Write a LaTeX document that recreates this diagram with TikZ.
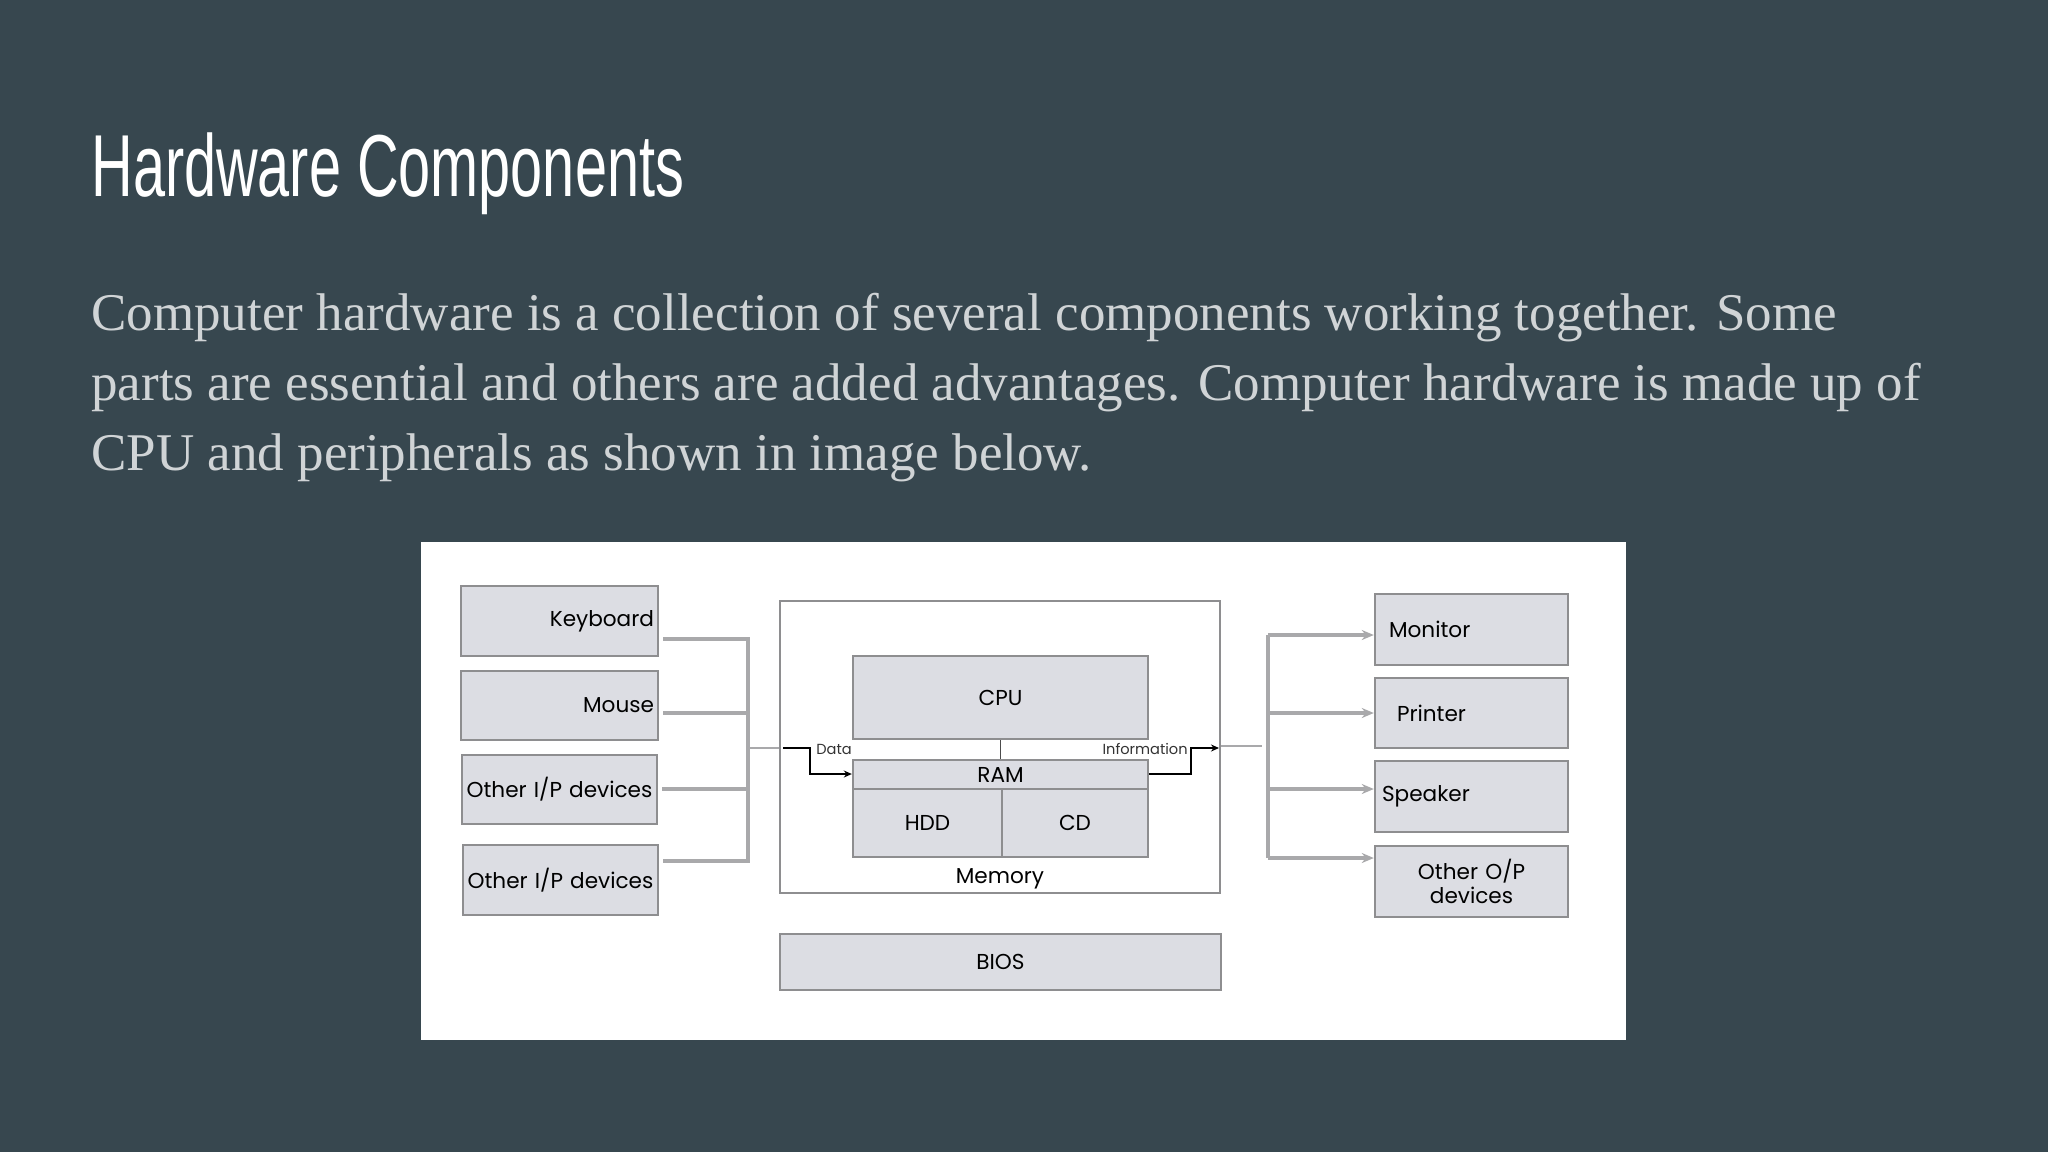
\documentclass[tikz,border=0pt]{standalone}
\usepackage{fontspec}
\setmainfont{Liberation Serif}
\newfontfamily\titlefont{Liberation Sans}
\newfontfamily\diafont{Poppins}
\usetikzlibrary{arrows.meta}
\newdimen\pxu \pxu=0.5pt
\definecolor{bg}{HTML}{37474F}
\definecolor{bodytxt}{HTML}{D0D4D6}
\definecolor{boxfill}{HTML}{DCDDE3}
\definecolor{boxline}{HTML}{8E8E90}
\definecolor{conn}{HTML}{A9A9AB}
\begin{document}
\begin{tikzpicture}[x=0.5pt,y=-0.5pt,
  box/.style={draw=boxline,line width=1.2pt,fill=boxfill,inner sep=2pt,font=\diafont\fontsize{10.8}{12}\selectfont,text=black},
  bus/.style={draw=conn,line width=2.4pt},
  busa/.style={draw=conn,line width=2.4pt,-{Stealth[length=6pt,width=5pt]}},
  blk/.style={draw=black,line width=1.4pt},
  tiny/.style={font=\diafont\fontsize{7.3}{8}\selectfont,text=black!80,inner sep=0pt}]
\fill[bg] (0,0) rectangle (2048,1152);
\useasboundingbox (0,0) rectangle (2048,1152);
\node[anchor=base west,inner sep=0pt,text=white] (title) at (91,196)
  {\titlefont\fontsize{44}{48}\selectfont\scalebox{0.655}[1]{Hardware Components}};
\node[anchor=base west,inner sep=0pt,text=bodytxt,font=\fontsize{26.5}{30}\selectfont] (l1) at (91,330) {Computer hardware is a collection of several components working together. Some};
\node[anchor=base west,inner sep=0pt,text=bodytxt,font=\fontsize{26.5}{30}\selectfont] (l2) at (91,400) {parts are essential and others are added advantages. Computer hardware is made up of};
\node[anchor=base west,inner sep=0pt,text=bodytxt,font=\fontsize{26.5}{30}\selectfont] (l3) at (91,470) {CPU and peripherals as shown in image below.};
\fill[white] (421,542) rectangle (1626,1040);
% left boxes
\node[box,minimum width=195\pxu,minimum height=70\pxu,text width=189\pxu,align=right] (kb) at (559.5,621) {Keyboard};
\node[box,minimum width=195\pxu,minimum height=69\pxu,text width=189\pxu,align=right] (ms) at (559.5,705.5) {Mouse};
\node[box,minimum width=195\pxu,minimum height=69\pxu,text width=195\pxu,align=center,inner sep=0pt] (ip1) at (559.5,789.5) {Other I/P devices};
\node[box,minimum width=195\pxu,minimum height=70\pxu,text width=195\pxu,align=center,inner sep=0pt] (ip2) at (560.5,880) {Other I/P devices};
% memory
\node[draw=boxline,line width=1pt,fill=white,minimum width=440\pxu,minimum height=292\pxu] (mem) at (1000,747) {};
\node[box,minimum width=295\pxu,minimum height=83\pxu] (cpu) at (1000.5,697.5) {CPU};
\node[box,minimum width=295\pxu,minimum height=29\pxu] (ram) at (1000.5,774.5) {RAM};
\node[box,minimum width=149\pxu,minimum height=68\pxu] (hdd) at (927.5,823) {HDD};
\node[box,minimum width=146\pxu,minimum height=68\pxu] (cd) at (1075,823) {CD};
\node[font=\diafont\fontsize{10.8}{12}\selectfont,inner sep=0pt] (memlbl) at (1000,879) {Memory};
\node[box,minimum width=441\pxu,minimum height=56\pxu] (bios) at (1000.5,962) {BIOS};
% right boxes
\node[box,minimum width=193\pxu,minimum height=71\pxu,text width=185\pxu,align=left] (mon) at (1471.5,629.5) {\hspace*{5pt}Monitor};
\node[box,minimum width=193\pxu,minimum height=70\pxu,text width=185\pxu,align=left] (prn) at (1471.5,713) {\hspace*{9pt}Printer};
\node[box,minimum width=193\pxu,minimum height=71\pxu,text width=191\pxu,align=left,inner sep=0pt] (spk) at (1471.5,796.5) {\hspace*{3pt}Speaker};
\node[box,minimum width=193\pxu,minimum height=71\pxu,text width=193\pxu,align=center,inner sep=0pt] (op) at (1471.5,881.5) {Other O/P devices};
% left bus
\coordinate (lb1) at (748,639);
\coordinate (lb4) at (748,861);
\draw[bus] ([xshift=4\pxu]kb.east |- lb1) -- (lb1) -- (lb4) -- ([xshift=4\pxu]ip2.east |- lb4);
\draw[bus] ([xshift=4\pxu]ms.east |- 0,713) -- (748,713);
\draw[bus] ([xshift=4\pxu]ip1.east |- 0,789) -- (748,789);
\draw[conn,line width=0.6pt] (748,748) -- (mem.west |- 0,748);
% data arrow
\coordinate (d1) at (810,748);
\coordinate (d2) at (810,774);
\draw[blk,-{Stealth[length=4pt,width=3.5pt]}] ([xshift=4\pxu]mem.west |- d1) -- (d1) -- (d2) -- (ram.west |- d2);
\node[tiny,anchor=west] (data) at (816,749) {Data};
\draw[black!70,line width=0.8pt] (cpu.south) -- (ram.north);
% information
\coordinate (i1) at (1191,774);
\coordinate (i2) at (1191,748);
\draw[blk,-{Stealth[length=4pt,width=3.5pt]}] (ram.east |- i1) -- (i1) -- (i2) -- ([xshift=-2\pxu]mem.east |- i2);
\node[tiny,anchor=east] (info) at (1188,749) {Information};
% right bus
\draw[conn,line width=0.6pt] (mem.east |- 0,746) -- (1262,746);
\coordinate (rb1) at (1268,635);
\coordinate (rb4) at (1268,858);
\draw[bus] (rb1) -- (rb4);
\draw[busa] (rb1) -- (mon.west |- rb1);
\draw[busa] (1268,713) -- (prn.west |- 0,713);
\draw[busa] (1268,789) -- (spk.west |- 0,789);
\draw[busa] (rb4) -- (op.west |- rb4);
\end{tikzpicture}
\end{document}
